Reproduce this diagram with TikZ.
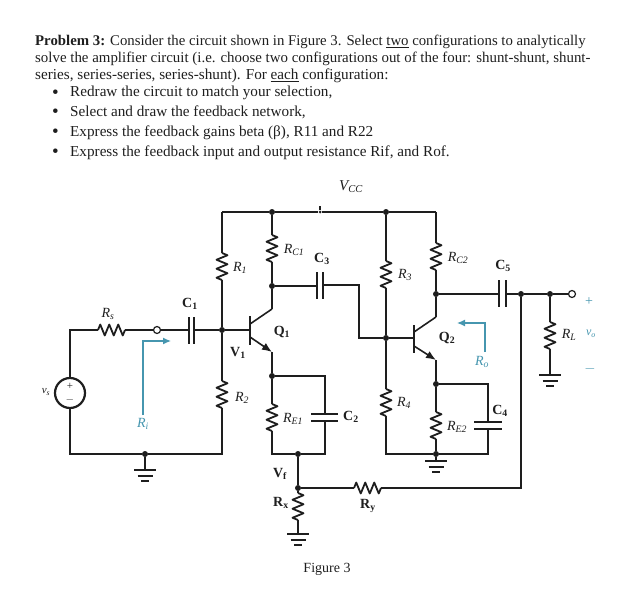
\documentclass[tikz,border=0pt]{standalone}
\usepackage{fontspec}
\setmainfont{Liberation Serif}
\usetikzlibrary{arrows.meta,decorations.pathmorphing}
\definecolor{probe}{RGB}{70,150,175}
\definecolor{ink}{RGB}{30,30,30}
\tikzset{
    wire/.style={line width=1.3pt,draw=ink},
    plate/.style={line width=2.2pt,draw=ink},
    res/.style={line width=1.8pt,draw=ink,line join=round,decorate,decoration={zigzag,segment length=9pt,amplitude=5.5pt}},
    probeline/.style={line width=1.3pt,draw=probe,-{Latex[length=8pt,width=7pt]}},
    dot/.style={circle,fill=ink,inner sep=0pt,minimum size=6pt},
    term/.style={circle,draw=ink,fill=white,line width=1.2pt,inner sep=0pt,minimum size=7pt},
    source/.style={circle,draw=ink,line width=2.2pt,inner sep=0pt,minimum size=30pt},
    para/.style={anchor=base west,inner sep=0pt,font=\fontsize{14.9}{16}\selectfont,text=ink},
    item/.style={para,font=\fontsize{15.2}{17}\selectfont},
    lab/.style={inner sep=0pt,font=\fontsize{14}{15}\selectfont,text=ink},
    blue lab/.style={inner sep=0pt,font=\fontsize{14}{15}\selectfont,text=probe},
    gnd/.pic={
        \draw[plate] (-11,0) -- (11,0);
        \draw[plate] (-7.5,6) -- (7.5,6);
        \draw[plate] (-4,11) -- (4,11);
    }
}
\begin{document}
\begin{tikzpicture}[x=1pt,y=-1pt]
            \useasboundingbox (0,0) rectangle (637,602);
            % question text
            \draw (35,46) node[para,font=\fontsize{14.8}{16}\selectfont] (line1) {\textbf{Problem 3:} Consider the circuit shown in Figure 3. Select \underline{two} configurations to analytically};
            \draw (35,63) node[para] (line2) {solve the amplifier circuit (i.e. choose two configurations out of the four: shunt-shunt, shunt-};
            \draw (35,80) node[para,font=\fontsize{15.2}{16}\selectfont] (line3) {series, series-series, series-shunt). For \underline{each} configuration:};
            \draw (52,98) node[para,font=\fontsize{19}{19}\selectfont] (b1) {\textbullet};
            \draw (52,117) node[para,font=\fontsize{19}{19}\selectfont] (b2) {\textbullet};
            \draw (52,137) node[para,font=\fontsize{19}{19}\selectfont] (b3) {\textbullet};
            \draw (52,157) node[para,font=\fontsize{19}{19}\selectfont] (b4) {\textbullet};
            \draw (70,96.5) node[item] (item1) {Redraw the circuit to match your selection,};
            \draw (70,116) node[item] (item2) {Select and draw the feedback network,};
            \draw (70,136) node[item] (item3) {Express the feedback gains beta (β), R11 and R22};
            \draw (70,156) node[item] (item4) {Express the feedback input and output resistance Rif, and Rof.};
            % junctions
            \draw (272,212) node[dot] (top1) {};
            \draw (320,212) node[dot,minimum size=3pt] (topv) {};
            \draw (386,212) node[dot] (top3) {};
            \draw (222,330) node[dot] (base1) {};
            \draw (272,286) node[dot] (col1) {};
            \draw (272,376) node[dot] (em1) {};
            \draw (298,454) node[dot] (fb1) {};
            \draw (298,488) node[dot] (fb2) {};
            \draw (386,338) node[dot] (base2) {};
            \draw (436,294) node[dot] (col2) {};
            \draw (436,384) node[dot] (em2) {};
            \draw (436,454) node[dot] (gnd2) {};
            \draw (521,294) node[dot] (fb3) {};
            \draw (550,294) node[dot] (out) {};
            \draw (145,454) node[dot] (gnd1) {};
            \draw (157,330) node[term] (in) {};
            \draw (572,294) node[term] (outt) {};
            \draw (70,393) node[source] (vs) {};
            % corners and component ends
            \coordinate (vcc) at (320,206);
            \coordinate (topl) at (222,212);
            \coordinate (topr) at (436,212);
            \coordinate (vsup) at (70,330);
            \coordinate (vsdn) at (70,454);
            \coordinate (r2dn) at (222,454);
            \coordinate (Rsa) at (98,330);
            \coordinate (Rsb) at (125,330);
            \coordinate (R1a) at (222,253);
            \coordinate (R1b) at (222,280);
            \coordinate (R2a) at (222,381);
            \coordinate (R2b) at (222,408);
            \coordinate (Rc1a) at (272,235);
            \coordinate (Rc1b) at (272,262);
            \coordinate (Re1a) at (272,404);
            \coordinate (Re1b) at (272,431);
            \coordinate (Rxa) at (298,493);
            \coordinate (Rxb) at (298,520);
            \coordinate (Rya) at (354,488);
            \coordinate (Ryb) at (381,488);
            \coordinate (R3a) at (386,261);
            \coordinate (R3b) at (386,288);
            \coordinate (R4a) at (386,389);
            \coordinate (R4b) at (386,416);
            \coordinate (Rc2a) at (436,243);
            \coordinate (Rc2b) at (436,270);
            \coordinate (Re2a) at (436,412);
            \coordinate (Re2b) at (436,439);
            \coordinate (Rla) at (550,322);
            \coordinate (Rlb) at (550,349);
            % feedback loop and supply
            \draw[wire] (topl) -- (top1) -- (topv) -- (top3) -- (topr);
            \draw[wire] (topv) -- (vcc);
            \draw[wire] (topl) -- (R1a);
            \draw[res] (R1a) -- (R1b);
            \draw[wire] (R1b) -- (base1) -- (R2a);
            \draw[res] (R2a) -- (R2b);
            \draw[wire] (R2b) -- (r2dn) -- (gnd1) -- (vsdn) -- (vs);
            \draw[wire] (vs) -- (vsup) -- (Rsa);
            \draw[res] (Rsa) -- (Rsb);
            \draw[wire] (Rsb) -- (in);
            \draw (145,470) pic {gnd};
            \draw[wire] (gnd1) -- (145,470);
            % Q1
            \coordinate (c1l) at (189,330);
            \coordinate (c1r) at (194,330);
            \draw[wire] (in) -- (c1l);
            \draw[plate] (189,317) -- (189,344);
            \draw[plate] (194,317) -- (194,344);
            \draw[wire] (c1r) -- (base1);
            \coordinate (b1) at (250,330);
            \draw[wire] (base1) -- (b1);
            \draw[plate] (250,316) -- (250,345);
            \coordinate (c1) at (272,309);
            \coordinate (e1) at (272,352);
            \draw[wire,line width=1.6pt] (250,324) -- (c1);
            \draw[wire,line width=1.6pt,-{Latex[length=10pt,width=8pt]}] (250,337) -- (e1);
            \draw[wire] (top1) -- (Rc1a);
            \draw[res] (Rc1a) -- (Rc1b);
            \draw[wire] (Rc1b) -- (col1) -- (c1);
            \draw[wire] (e1) -- (em1) -- (Re1a);
            \draw[res] (Re1a) -- (Re1b);
            \coordinate (e1dn) at (272,454);
            \coordinate (c2top) at (325,376);
            \coordinate (c2dn) at (325,454);
            \draw[wire] (Re1b) -- (e1dn) -- (fb1) -- (c2dn) -- (325,421);
            \draw[wire] (em1) -- (c2top) -- (325,414);
            \draw[plate] (311,414) -- (338,414);
            \draw[plate] (311,421) -- (338,421);
            % feedback branch
            \draw[wire] (fb1) -- (fb2) -- (Rxa);
            \draw[res] (Rxa) -- (Rxb);
            \draw[wire] (Rxb) -- (298,534);
            \draw (298,534) pic {gnd};
            \coordinate (fbr) at (521,488);
            \draw[wire] (fb2) -- (Rya);
            \draw[res] (Rya) -- (Ryb);
            \draw[wire] (Ryb) -- (fbr) -- (fb3);
            % coupling to Q2
            \coordinate (c3r) at (359,285);
            \coordinate (b2l) at (359,338);
            \draw[wire] (col1) -- (317,286);
            \draw[plate] (317,272) -- (317,299);
            \draw[plate] (323,272) -- (323,299);
            \draw[wire] (323,285) -- (c3r) -- (b2l) -- (base2);
            \draw[wire] (top3) -- (R3a);
            \draw[res] (R3a) -- (R3b);
            \draw[wire] (R3b) -- (base2) -- (R4a);
            \draw[res] (R4a) -- (R4b);
            \coordinate (r4dn) at (386,454);
            \draw[wire] (R4b) -- (r4dn) -- (gnd2);
            % Q2
            \coordinate (b2) at (414,338);
            \coordinate (c2) at (436,317);
            \coordinate (e2) at (436,360);
            \draw[wire] (base2) -- (b2);
            \draw[plate] (414,325) -- (414,353);
            \draw[wire,line width=1.6pt] (414,332) -- (c2);
            \draw[wire,line width=1.6pt,-{Latex[length=10pt,width=8pt]}] (414,346) -- (e2);
            \draw[wire] (topr) -- (Rc2a);
            \draw[res] (Rc2a) -- (Rc2b);
            \draw[wire] (Rc2b) -- (col2) -- (c2);
            \draw[wire] (e2) -- (em2) -- (Re2a);
            \draw[res] (Re2a) -- (Re2b);
            \draw[wire] (Re2b) -- (gnd2);
            \coordinate (c4top) at (488,384);
            \coordinate (c4dn) at (488,454);
            \draw[wire] (em2) -- (c4top) -- (488,422);
            \draw[wire] (gnd2) -- (c4dn) -- (488,429);
            \draw[plate] (474,422) -- (502,422);
            \draw[plate] (474,429) -- (502,429);
            \draw[wire] (gnd2) -- (436,461);
            \draw (436,461) pic {gnd};
            % output
            \draw[wire] (col2) -- (499,294);
            \draw[plate] (499,280) -- (499,307);
            \draw[plate] (506,280) -- (506,307);
            \draw[wire] (506,294) -- (fb3) -- (out) -- (outt);
            \draw[wire] (out) -- (Rla);
            \draw[res] (Rla) -- (Rlb);
            \draw[wire] (Rlb) -- (550,375);
            \draw (550,375) pic {gnd};
            % input and output probes
            \coordinate (riend) at (143,415);
            \coordinate (rimid) at (143,341);
            \coordinate (rotip) at (457,323);
            \coordinate (rostart) at (485,352);
            \draw[probeline] (riend) -- (rimid) -- (171,341);
            \draw[probeline] (rostart) -- (485,323) -- (rotip);
            % labels
            \draw (351,187) node[lab,font=\fontsize{15}{16}\selectfont] (lvcc) {\textit{V\textsubscript{CC}}};
            \draw (46,392) node[lab,font=\fontsize{11}{12}\selectfont] (lvs) {\textit{v\textsubscript{s}}};
            \draw (70,386) node[lab,font=\fontsize{11}{11}\selectfont] (lplus) {+};
            \draw (70,400) node[lab,font=\fontsize{11}{11}\selectfont] (lminus) {$-$};
            \draw (108,314) node[lab] (lrs) {\textit{R\textsubscript{s}}};
            \draw (190,304) node[lab] (lc1) {\textbf{C\textsubscript{1}}};
            \draw (240,268) node[lab] (lr1) {\textit{R\textsubscript{1}}};
            \draw (242,398) node[lab] (lr2) {\textit{R\textsubscript{2}}};
            \draw (294,250) node[lab] (lrc1) {\textit{R\textsubscript{C1}}};
            \draw (322,259) node[lab] (lc3) {\textbf{C\textsubscript{3}}};
            \draw (282,332) node[lab] (lq1) {\textbf{Q\textsubscript{1}}};
            \draw (238,353) node[lab] (lv1) {\textbf{V\textsubscript{1}}};
            \draw (293,419) node[lab] (lre1) {\textit{R\textsubscript{E1}}};
            \draw (351,417) node[lab] (lc2) {\textbf{C\textsubscript{2}}};
            \draw (280,474) node[lab] (lvf) {\textbf{V\textsubscript{f}}};
            \draw (281,503) node[lab] (lrx) {\textbf{R\textsubscript{x}}};
            \draw (368,506) node[lab] (lry) {\textbf{R\textsubscript{y}}};
            \draw (405,275) node[lab] (lr3) {\textit{R\textsubscript{3}}};
            \draw (404,403) node[lab] (lr4) {\textit{R\textsubscript{4}}};
            \draw (458,258) node[lab] (lrc2) {\textit{R\textsubscript{C2}}};
            \draw (447,338) node[lab] (lq2) {\textbf{Q\textsubscript{2}}};
            \draw (457,427) node[lab] (lre2) {\textit{R\textsubscript{E2}}};
            \draw (500,411) node[lab] (lc4) {\textbf{C\textsubscript{4}}};
            \draw (503,266) node[lab] (lc5) {\textbf{C\textsubscript{5}}};
            \draw (569,335) node[lab] (lrl) {\textit{R\textsubscript{L}}};
            \draw (143,424) node[blue lab] (lri) {\textit{R\textsubscript{i}}};
            \draw (482,362) node[blue lab] (lro) {\textit{R\textsubscript{o}}};
            \draw (589,302) node[blue lab] (lop) {+};
            \draw (591,334) node[blue lab,font=\fontsize{12}{13}\selectfont] (lvo) {\textit{v\textsubscript{o}}};
            \draw (590,369) node[blue lab] (lom) {$-$};
            \draw (327,569) node[lab,font=\fontsize{14}{15}\selectfont] (lfig) {Figure 3};
\end{tikzpicture}
\end{document}
